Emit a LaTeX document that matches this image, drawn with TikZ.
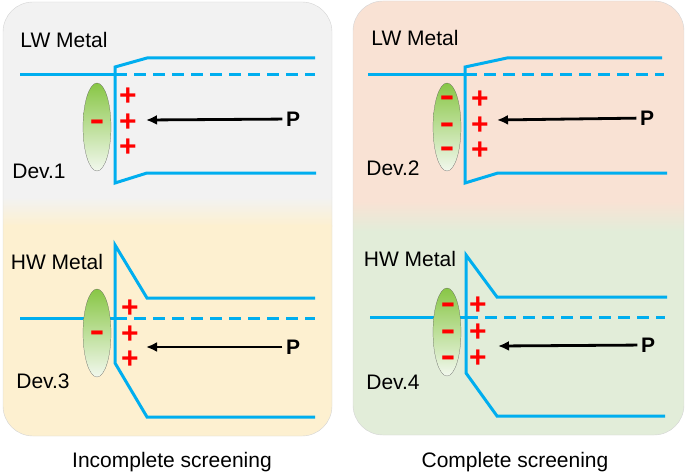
\documentclass[tikz,border=0pt]{standalone}
\usepackage{fontspec}
\setmainfont{Liberation Sans}
\usetikzlibrary{shapes.geometric,arrows.meta}
\definecolor{bandblue}{HTML}{00AEEF}
\definecolor{panelgray}{HTML}{F2F2F2}
\definecolor{panelyellow}{HTML}{FDF0D0}
\definecolor{panelsalmon}{HTML}{F9E2D4}
\definecolor{panelgreen}{HTML}{E2EDD9}
\definecolor{panelrim}{HTML}{D4D4D4}
\definecolor{dipgreen}{HTML}{88C645}
\definecolor{dipwhite}{HTML}{F2F8EE}
\tikzset{
  band/.style={bandblue, line width=3pt},
  fermidash/.style={bandblue, line width=3pt, dash pattern=on 12pt off 7pt},
  dipole/.style={ellipse, draw=gray!70!black, very thin, minimum width=28pt, minimum height=88pt, inner sep=0pt, top color=dipgreen, bottom color=dipwhite},
  plusq/.style={red, font=\fontsize{30}{30}\selectfont\bfseries, inner sep=0pt},
  minusq/.style={red, font=\fontsize{33}{33}\selectfont\bfseries, inner sep=0pt},
  lbl/.style={font=\fontsize{21}{21}\selectfont},
  pol/.style={font=\fontsize{21}{21}\selectfont\bfseries},
  parrow/.style={black, line width=2.8pt, -{Latex[length=11pt,width=10pt]}},
}

\begin{document}
\begin{tikzpicture}[x=1pt,y=-1pt]
    \useasboundingbox (0,0) rectangle (685,476);

    % left panel
    \begin{scope}
      \clip [rounded corners=30pt] (3,2) rectangle (332,436);
      \fill [panelgray] (0,0) rectangle (340,198);
      \shade [top color=panelgray, bottom color=panelyellow] (0,197) rectangle (340,226);
      \fill [panelyellow] (0,225) rectangle (340,440);
    \end{scope}
    \draw [panelrim, thin, rounded corners=30pt] (3,2) rectangle (332,436);

    % right panel
    \begin{scope}
      \clip [rounded corners=30pt] (353,1) rectangle (684,435);
      \fill [panelsalmon] (345,0) rectangle (690,202);
      \shade [top color=panelsalmon, bottom color=panelgreen] (345,201) rectangle (690,232);
      \fill [panelgreen] (345,231) rectangle (690,440);
    \end{scope}
    \draw [panelrim, thin, rounded corners=30pt] (353,1) rectangle (684,435);

    % Dev.1
    \draw [band] (20,75) -- (115,75);% metal level
    \draw [fermidash] (115,75) -- (315,75);
    \draw [band] (315,58) -- (147,58) -- (115,67) -- (115,183) -- (147,173) -- (316,173);
    \node [dipole] (dip1) at (97,127) {};
    \node [minusq] (m1) at (97,125) {\scalebox{1.35}[1]{-}};
    \foreach \yy in {96,122,147}
      \node [plusq] (p1\yy) at (128,\yy+1) {+};
    \node [pol] (P1) at (293,119) {P};
    \coordinate (tip1) at (146,120);
    \draw [parrow] (P1) -- (tip1);
    \node [lbl] (lw1) at (64,40) {LW Metal};
    \node [lbl] (dev1) at (39,171) {Dev.1};

    % Dev.3
    \draw [band] (20,318) -- (115,318);
    \draw [fermidash] (115,318) -- (315,318);
    \draw [band] (315,298) -- (147,298) -- (115,245) -- (115,363) -- (147,417) -- (315,417);
    \node [dipole] (dip3) at (97,333) {};
    \node [minusq] (m3) at (97,336) {\scalebox{1.35}[1]{-}};
    \foreach \yy in {308,334,359}
      \node [plusq] (p3\yy) at (130,\yy+1) {+};
    \node [pol] (P3) at (293,347) {P};
    \coordinate (tip3) at (146,347);
    \draw [parrow] (P3) -- (tip3);
    \node [lbl] (hw3) at (57,262) {HW Metal};
    \node [lbl] (dev3) at (43,381) {Dev.3};

    % Dev.2
    \draw [band] (368,75) -- (465,75);
    \draw [fermidash] (465,75) -- (664,75);
    \draw [band] (662,58) -- (507,58) -- (465,67) -- (465,183) -- (498,173) -- (667,173);
    \node [dipole] (dip2) at (447,127) {};
    \foreach \yy in {98,125,149}
      \node [minusq] (m2\yy) at (447,\yy+3) {\scalebox{1.35}[1]{-}};
    \foreach \yy in {99,125,150}
      \node [plusq] (p2\yy) at (480,\yy+1) {+};
    \node [pol] (P2) at (647,118) {P};
    \coordinate (tip2) at (497,120);
    \draw [parrow] (P2) -- (tip2);
    \node [lbl] (lw2) at (415,38) {LW Metal};
    \node [lbl] (dev2) at (393,168) {Dev.2};

    % Dev.4
    \draw [band] (370,317) -- (466,317);
    \draw [fermidash] (466,317) -- (665,317);
    \draw [band] (667,297) -- (497,297) -- (466,255) -- (466,373) -- (497,416) -- (665,416);
    \node [dipole] (dip4) at (447,332) {};
    \foreach \yy in {305,332,358}
      \node [minusq] (m4\yy) at (448,\yy+3) {\scalebox{1.35}[1]{-}};
    \foreach \yy in {305,332,358}
      \node [plusq] (p4\yy) at (478,\yy+1) {+};
    \node [pol] (P4) at (648,345) {P};
    \coordinate (tip4) at (498,346);
    \draw [parrow] (P4) -- (tip4);
    \node [lbl] (hw4) at (410,259) {HW Metal};
    \node [lbl] (dev4) at (393,382) {Dev.4};

    % captions
    \node [lbl] (cap1) at (172,462) {Incomplete screening};
    \node [lbl] (cap2) at (515,462) {Complete screening};
  \end{tikzpicture}
\end{document}
